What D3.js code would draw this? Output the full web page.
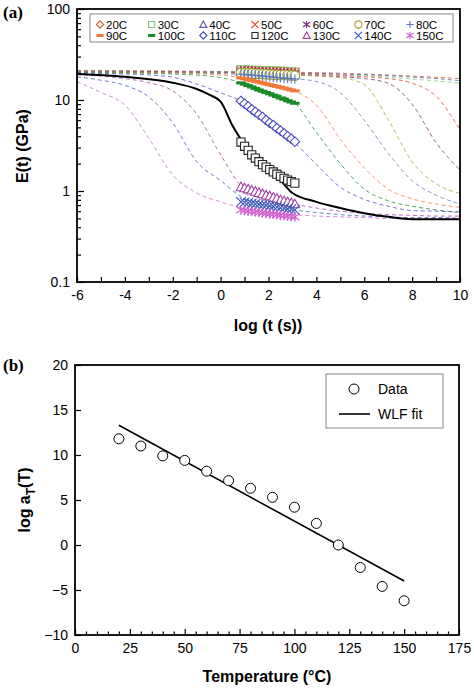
<!DOCTYPE html>
<html>
<head>
<meta charset="utf-8">
<script src="https://cdn.jsdelivr.net/npm/d3@7"></script>
<style>
body { margin: 0; background: #fff; }
text { font-family: "Liberation Sans", Arial, sans-serif; }
</style>
</head>
<body>
<div id="vis"></div>
<script>
// ---- panel (a) data ----
var tempLabels = ["20C","30C","40C","50C","60C","70C","80C","90C","100C","110C","120C","130C","140C","150C"];

// measured points, log t (s)
var logTimeData = [0.85,1.0,1.15,1.3,1.45,1.6,1.75,1.9,2.05,2.2,2.35,2.5,2.65,2.8,2.95,3.1];
var E20  = [21.0,20.9,20.8,20.8,20.7,20.6,20.5,20.5,20.4,20.3,20.2,20.1,20.1,20.0,19.9,19.8];
var E30  = [21.4,21.3,21.2,21.2,21.1,21.0,21.0,20.9,20.8,20.8,20.7,20.6,20.6,20.5,20.4,20.3];
var E40  = [20.6,20.5,20.4,20.4,20.3,20.2,20.1,20.0,20.0,19.9,19.8,19.7,19.7,19.6,19.5,19.4];
var E50  = [20.9,20.8,20.7,20.7,20.6,20.5,20.5,20.4,20.3,20.3,20.2,20.1,20.0,20.0,19.9,19.8];
var E60  = [20.4,20.3,20.2,20.2,20.1,20.0,20.0,19.9,19.8,19.8,19.7,19.6,19.5,19.5,19.4,19.3];
var E70  = [19.8,19.7,19.6,19.5,19.4,19.4,19.3,19.2,19.1,19.0,18.9,18.8,18.8,18.7,18.6,18.5];
var E80  = [19.2,19.05,18.9,18.75,18.6,18.45,18.3,18.15,18.0,17.85,17.7,17.55,17.4,17.3,17.15,17.0];
var E90  = [17.5,17.1,16.7,16.4,16.0,15.7,15.4,15.0,14.7,14.4,14.1,13.8,13.5,13.2,12.9,12.6];
var E100 = [15.4,14.9,14.4,13.9,13.4,12.9,12.5,12.1,11.7,11.3,10.9,10.5,10.2,9.8,9.5,9.2];
var E110 = [9.75,9.1,8.5,7.9,7.4,6.9,6.5,6.0,5.6,5.3,4.9,4.6,4.3,4.0,3.75,3.48];
var E120 = [3.45,3.1,2.8,2.5,2.3,2.1,1.95,1.83,1.72,1.62,1.53,1.45,1.38,1.32,1.27,1.22];
var E130 = [1.11,1.08,1.05,1.02,0.99,0.96,0.93,0.90,0.88,0.85,0.83,0.80,0.78,0.76,0.74,0.72];
var E140 = [0.76,0.75,0.74,0.73,0.72,0.71,0.70,0.695,0.685,0.675,0.665,0.655,0.645,0.635,0.63,0.62];
var E150 = [0.62,0.61,0.60,0.595,0.59,0.58,0.575,0.565,0.56,0.555,0.55,0.54,0.535,0.53,0.525,0.52];

// fitted curves (dashed), sampled every decade
var logTimeFit = [-6,-5,-4,-3,-2,-1,0,1,2,3,4,5,6,7,8,9,10];
var fit20  = [21.2,21.1,21.0,20.9,20.8,20.7,20.6,20.5,20.4,20.2,20.0,19.7,19.3,18.8,18.3,17.8,17.2];
var fit30  = [21.0,20.9,20.8,20.7,20.6,20.5,20.4,20.2,20.0,19.7,19.4,19.0,18.5,17.8,17.0,16.2,15.3];
var fit40  = [20.8,20.8,20.7,20.6,20.5,20.4,20.3,20.2,20.0,19.8,19.6,19.3,19.0,18.5,17.9,17.2,16.3];
var fit50  = [20.7,20.6,20.5,20.4,20.3,20.2,20.1,20.0,19.8,19.5,19.1,18.6,18.0,17.2,15.3,11.0,4.7];
var fit60  = [20.6,20.5,20.4,20.3,20.2,20.1,20.0,19.8,19.5,19.1,18.6,18.0,17.2,15.3,9.0,3.4,1.7];
var fit70  = [20.5,20.4,20.3,20.2,20.1,20.0,19.9,19.7,19.3,18.8,18.3,17.6,14.8,6.1,2.1,1.2,0.94];
var fit80  = [20.4,20.3,20.2,20.1,20.0,19.8,19.5,19.0,18.2,17.2,16.0,12.0,6.0,2.6,1.3,0.9,0.72];
var fit90  = [20.3,20.2,20.1,20.0,19.8,19.5,18.8,17.4,15.3,12.9,8.8,3.7,1.8,1.05,0.82,0.72,0.66];
var fit100 = [20.0,19.9,19.8,19.6,19.3,18.8,17.6,15.2,12.3,9.8,4.4,2.0,1.05,0.78,0.68,0.62,0.58];
var fit110 = [19.8,19.6,19.3,18.8,17.8,15.0,12.0,9.3,5.7,3.6,1.95,1.1,0.81,0.68,0.61,0.6,0.59];
var fit130 = [19.0,18.3,17.2,15.5,12.6,7.0,2.5,1.05,0.85,0.73,0.65,0.6,0.57,0.55,0.54,0.53,0.53];
var fit140 = [18.0,16.5,14.5,10.8,5.6,2.1,1.3,0.82,0.68,0.62,0.58,0.55,0.53,0.52,0.51,0.51,0.5];
var fit150 = [15.9,12.1,8.8,3.8,1.5,0.95,0.76,0.64,0.58,0.55,0.53,0.52,0.51,0.5,0.5,0.5,0.5];

// reference curve at 120C (solid)
var masterLogT = [-6,-4,-2,-1,-0.5,0,0.5,1,1.5,2,2.5,3,4,5,6,7,8,10];
var masterE    = [19.3,18.0,15.5,13.2,11.5,9.6,5.2,3.2,2.1,1.65,1.3,0.95,0.76,0.65,0.57,0.52,0.49,0.49];

// ---- panel (b) data ----
var tempsB = [20,30,40,50,60,70,80,90,100,110,120,130,140,150];
var logAT  = [11.8,11.0,9.9,9.4,8.2,7.15,6.3,5.3,4.2,2.4,0,-2.5,-4.6,-6.2];
var wlfT   = [20,150];
var wlfLogAT = [13.3,-4.0];

var expE = [E20,E30,E40,E50,E60,E70,E80,E90,E100,E110,E120,E130,E140,E150];
var fitTemps = ["20C","30C","40C","50C","60C","70C","80C","90C","100C","110C","130C","140C","150C"];
var fitE = [fit20,fit30,fit40,fit50,fit60,fit70,fit80,fit90,fit100,fit110,fit130,fit140,fit150];

var color = d3.scaleOrdinal().domain(tempLabels)
    .range(["#c8602a","#7cc87c","#5a5aa8","#e8402a","#7a2a7a","#a0a030","#5878c0",
            "#f07838","#1a8a2a","#4848c0","#222222","#a040a0","#3858b8","#d060d0"]);
var shape = d3.scaleOrdinal().domain(tempLabels)
    .range(["diamond","square","triangle","cross","asterisk","circle","plus",
            "dash","dash","diamond","square","triangle","cross","asterisk"]);

function markerPath(type, s) {
    switch (type) {
        case "diamond": return "M0," + (-s) + "L" + s + ",0L0," + s + "L" + (-s) + ",0Z";
        case "square": var q = s * 0.85; return "M" + (-q) + "," + (-q) + "H" + q + "V" + q + "H" + (-q) + "Z";
        case "triangle": return "M0," + (-s) + "L" + s + "," + (s * 0.8) + "L" + (-s) + "," + (s * 0.8) + "Z";
        case "cross": return "M" + (-s) + "," + (-s) + "L" + s + "," + s + "M" + (-s) + "," + s + "L" + s + "," + (-s);
        case "asterisk": return "M" + (-s) + "," + (-s * 0.7) + "L" + s + "," + (s * 0.7) + "M" + (-s) + "," + (s * 0.7) + "L" + s + "," + (-s * 0.7) + "M0," + (-s) + "V" + s;
        case "plus": return "M" + (-s) + ",0H" + s + "M0," + (-s) + "V" + s;
        case "dash": return "M" + (-s) + ",0H" + s;
        case "circle": return d3.symbol(d3.symbolCircle, Math.PI * s * s)();
    }
}
var closedShapes = {diamond: 1, square: 1, triangle: 1, circle: 1};

var width = 474, height = 688;
var svg = d3.select("#vis").append("svg")
    .attr("width", width)
    .attr("height", height);

// ================= panel (a) =================
var xA = d3.scaleLinear().domain([-6, 10]).range([77, 460]);
var yA = d3.scaleLog().domain([0.1, 100]).range([282, 9]);

var gA = svg.append("g");

var xAxisA = d3.axisBottom(xA)
    .tickValues(d3.range(-6, 11, 1))
    .tickFormat(function(d) { return d % 2 === 0 ? d : ""; })
    .tickSize(-5).tickSizeOuter(0).tickPadding(8);
gA.append("g").attr("transform", "translate(0,282)").call(xAxisA);

var yAxisA = d3.axisLeft(yA)
    .tickValues([0.1, 1, 10, 100])
    .tickFormat(function(d) { return d < 1 ? "0.1" : d3.format("d")(d); })
    .tickSize(-7).tickSizeOuter(0).tickPadding(7);
gA.append("g").attr("transform", "translate(77,0)").call(yAxisA);

var minorA = [];
[0.1, 1, 10].forEach(function(dec) { for (var k = 2; k <= 9; k++) minorA.push(dec * k); });
gA.append("g").attr("transform", "translate(77,0)")
    .call(d3.axisLeft(yA).tickValues(minorA).tickFormat("").tickSize(-4).tickSizeOuter(0));

var line = d3.line()
    .x(function(d) { return xA(d[0]); })
    .y(function(d) { return yA(d[1]); })
    .curve(d3.curveMonotoneX);

svg.append("clipPath").attr("id", "clipA")
    .append("rect").attr("x", 77).attr("y", 9).attr("width", 383).attr("height", 273);

var curves = gA.append("g").attr("clip-path", "url(#clipA)");

curves.selectAll("path.fit")
    .data(fitTemps.map(function(t, i) {
        return {temp: t, values: logTimeFit.map(function(x, j) { return [x, fitE[i][j]]; })};
    }))
    .enter().append("path")
    .attr("class", "fit")
    .attr("d", function(d) { return line(d.values); })
    .attr("fill", "none")
    .attr("stroke", function(d) { return color(d.temp); })
    .attr("stroke-width", 1)
    .attr("stroke-opacity", 0.75)
    .attr("stroke-dasharray", "4,3");

curves.append("path")
    .attr("d", line(masterLogT.map(function(x, j) { return [x, masterE[j]]; })))
    .attr("fill", "none")
    .attr("stroke", "#000")
    .attr("stroke-width", 2);

// measured points
var series = tempLabels.map(function(t, i) {
    return {temp: t, values: logTimeData.map(function(x, j) { return [x, expE[i][j]]; })};
});
var sg = gA.selectAll("g.series").data(series).enter().append("g").attr("class", "series");
sg.selectAll("path")
    .data(function(d) { return d.values.map(function(v) { return {temp: d.temp, v: v}; }); })
    .enter().append("path")
    .attr("transform", function(d) { return "translate(" + xA(d.v[0]) + "," + yA(d.v[1]) + ")"; })
    .attr("d", function(d) { return markerPath(shape(d.temp), 4.8); })
    .attr("fill", function(d) { return closedShapes[shape(d.temp)] ? "#fff" : "none"; })
    .attr("stroke", function(d) { return color(d.temp); })
    .attr("stroke-width", function(d) { return shape(d.temp) === "dash" ? 3 : 1.1; });

// frame
gA.append("rect").attr("x", 77).attr("y", 9).attr("width", 383).attr("height", 273)
    .attr("fill", "none").attr("stroke", "#000").attr("stroke-width", 1.8);

// legend
var legA = gA.append("g");
legA.append("rect").attr("x", 90).attr("y", 14).attr("width", 363).attr("height", 28)
    .attr("fill", "#fff").attr("stroke", "#888").attr("stroke-width", 1);
var colX = d3.scalePoint().domain(d3.range(7)).range([100, 410]);
var rowY = d3.scalePoint().domain([0, 1]).range([24.5, 35.5]);
var items = legA.selectAll("g.item").data(tempLabels).enter().append("g")
    .attr("transform", function(d, i) { return "translate(" + colX(i % 7) + "," + rowY(Math.floor(i / 7)) + ")"; });
items.append("path")
    .attr("d", function(d) { return markerPath(shape(d), 3.6); })
    .attr("fill", "none")
    .attr("stroke", function(d) { return color(d); })
    .attr("stroke-width", function(d) { return shape(d) === "dash" ? 3 : 1.1; });
items.append("text")
    .attr("x", 6).attr("dy", "0.36em")
    .style("font-size", "11.5px")
    .text(function(d) { return d; });

// ================= panel (b) =================
var xB = d3.scaleLinear().domain([0, 175]).range([75, 459]);
var yB = d3.scaleLinear().domain([-10, 20]).range([635, 365]);
var gB = svg.append("g");

gB.append("g").attr("transform", "translate(0,635)")
    .call(d3.axisBottom(xB).tickValues(d3.range(0, 176, 25)).tickSize(-6).tickSizeOuter(0).tickPadding(8));
gB.append("g").attr("transform", "translate(0,635)")
    .call(d3.axisBottom(xB).tickValues(d3.range(5, 175, 5).filter(function(d) { return d % 25 !== 0; }))
        .tickFormat("").tickSize(-3.5).tickSizeOuter(0));
gB.append("g").attr("transform", "translate(75,0)")
    .call(d3.axisLeft(yB).tickValues(d3.range(-10, 21, 5)).tickSize(-6).tickSizeOuter(0).tickPadding(7));

gB.append("path")
    .attr("d", d3.line().x(function(d) { return xB(d[0]); }).y(function(d) { return yB(d[1]); })
        (wlfT.map(function(t, i) { return [t, wlfLogAT[i]]; })))
    .attr("stroke", "#000").attr("stroke-width", 1.6).attr("fill", "none");

gB.selectAll("circle.pt")
    .data(tempsB.map(function(t, i) { return [t, logAT[i]]; }))
    .enter().append("circle")
    .attr("class", "pt")
    .attr("cx", function(d) { return xB(d[0]); })
    .attr("cy", function(d) { return yB(d[1]); })
    .attr("r", 5)
    .attr("fill", "#fff").attr("stroke", "#000").attr("stroke-width", 1);

gB.append("rect").attr("x", 75).attr("y", 365).attr("width", 384).attr("height", 270)
    .attr("fill", "none").attr("stroke", "#000").attr("stroke-width", 1.8);

var legB = gB.append("g");
legB.append("rect").attr("x", 326).attr("y", 374).attr("width", 117).attr("height", 54)
    .attr("fill", "#fff").attr("stroke", "#888").attr("stroke-width", 1);
legB.append("circle").attr("cx", 354).attr("cy", 389).attr("r", 5)
    .attr("fill", "#fff").attr("stroke", "#000");
legB.append("text").attr("x", 378).attr("y", 389).attr("dy", "0.36em").style("font-size", "14px").text("Data");
legB.append("line").attr("x1", 339).attr("x2", 370).attr("y1", 414).attr("y2", 414)
    .attr("stroke", "#000").attr("stroke-width", 1.6);
legB.append("text").attr("x", 378).attr("y", 414).attr("dy", "0.36em").style("font-size", "14px").text("WLF fit");

// ---- shared styling ----
svg.selectAll(".domain").remove();
svg.selectAll(".tick line").attr("stroke", "#000").attr("stroke-width", 1.2);
svg.selectAll(".tick text").style("font-size", "14px").attr("fill", "#000")
    .style("font-family", "'Liberation Sans', Arial, sans-serif");

// titles
svg.append("text").attr("x", 3).attr("y", 18)
    .style("font-family", "'Liberation Serif', 'Times New Roman', serif")
    .style("font-weight", "bold").style("font-size", "17px").text("(a)");
svg.append("text").attr("x", 3).attr("y", 371)
    .style("font-family", "'Liberation Serif', 'Times New Roman', serif")
    .style("font-weight", "bold").style("font-size", "17px").text("(b)");

svg.append("text")
    .attr("transform", "translate(28,146) rotate(-90)")
    .attr("text-anchor", "middle")
    .style("font-weight", "bold").style("font-size", "16px")
    .text("E(t) (GPa)");
svg.append("text")
    .attr("x", 268).attr("y", 331)
    .attr("text-anchor", "middle")
    .style("font-weight", "bold").style("font-size", "16px")
    .text("log (t (s))");

var yTitleB = svg.append("text")
    .attr("transform", "translate(30,500) rotate(-90)")
    .attr("text-anchor", "middle")
    .style("font-weight", "bold").style("font-size", "16px");
yTitleB.append("tspan").text("log a");
yTitleB.append("tspan").attr("dy", 5).style("font-size", "12px").text("T");
yTitleB.append("tspan").attr("dy", -5).text("(T)");

svg.append("text")
    .attr("x", 267).attr("y", 682)
    .attr("text-anchor", "middle")
    .style("font-weight", "bold").style("font-size", "16px")
    .text("Temperature (\u00B0C)");
</script>
</body>
</html>
